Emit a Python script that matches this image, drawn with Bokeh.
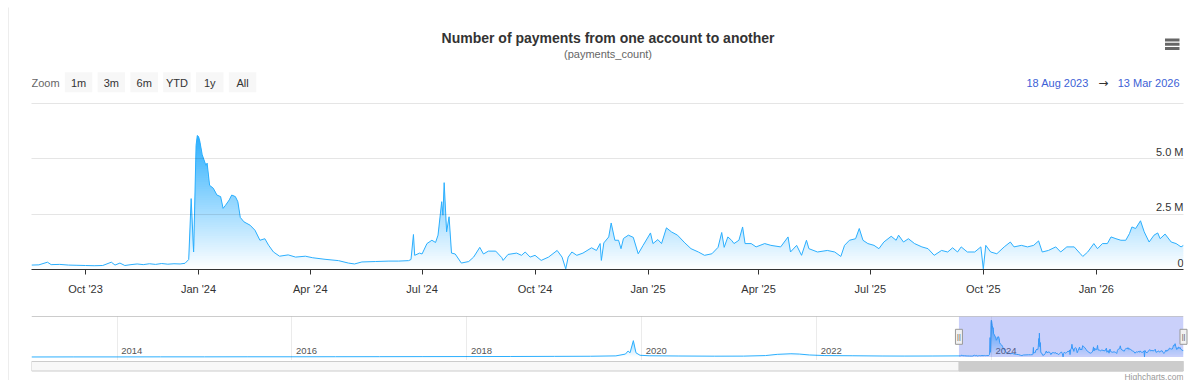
import numpy as np
import pandas as pd
from bokeh.plotting import figure
from bokeh.models import Range1d, FixedTicker, DatetimeTickFormatter, Grid, Span, BoxAnnotation
from bokeh.layouts import row, column
from bokeh.core.properties import value
from bokeh.core.validation import silence
from bokeh.core.validation.warnings import MISSING_RENDERERS
from bokeh.embed import file_html
from bokeh.resources import INLINE

silence(MISSING_RENDERERS, True)

FONT = "Liberation Sans"

# ---------------- data ----------------
title_text = "Number of payments from one account to another"
subtitle_text = "(payments_count)"
zoom_buttons = ["1m", "3m", "6m", "YTD", "1y", "All"]
range_from = "18 Aug 2023"
range_to = "13 Mar 2026"

main_dates = [
    "2023-08-18", "2023-08-24", "2023-08-31", "2023-09-03", "2023-09-10", "2023-09-17", "2023-09-24",
    "2023-10-01", "2023-10-08", "2023-10-15", "2023-10-22", "2023-10-25", "2023-10-29", "2023-11-02",
    "2023-11-07", "2023-11-12", "2023-11-17", "2023-11-22", "2023-11-27", "2023-12-02", "2023-12-07",
    "2023-12-12", "2023-12-17", "2023-12-21", "2023-12-24", "2023-12-26", "2023-12-28", "2023-12-30",
    "2023-12-31", "2024-01-01", "2024-01-02", "2024-01-04", "2024-01-07", "2024-01-08", "2024-01-10",
    "2024-01-13", "2024-01-16", "2024-01-19", "2024-01-21", "2024-01-23", "2024-01-26", "2024-01-28",
    "2024-01-31", "2024-02-02", "2024-02-04", "2024-02-07", "2024-02-12", "2024-02-16", "2024-02-20",
    "2024-02-24", "2024-02-27", "2024-03-02", "2024-03-07", "2024-03-14", "2024-03-20", "2024-03-28",
    "2024-04-03", "2024-04-13", "2024-04-24", "2024-05-02", "2024-05-07", "2024-05-13", "2024-05-24",
    "2024-06-04", "2024-06-12", "2024-06-20", "2024-06-22", "2024-06-24", "2024-06-25", "2024-06-29",
    "2024-07-01", "2024-07-05", "2024-07-09", "2024-07-12", "2024-07-14", "2024-07-17", "2024-07-18",
    "2024-07-19", "2024-07-21", "2024-07-23", "2024-07-25", "2024-07-28", "2024-08-02", "2024-08-08",
    "2024-08-12", "2024-08-17", "2024-08-20", "2024-08-24", "2024-08-30", "2024-09-04", "2024-09-05",
    "2024-09-09", "2024-09-16", "2024-09-20", "2024-09-23", "2024-09-27", "2024-10-01", "2024-10-06",
    "2024-10-12", "2024-10-19", "2024-10-23", "2024-10-26", "2024-10-28", "2024-10-31", "2024-11-04",
    "2024-11-09", "2024-11-16", "2024-11-20", "2024-11-23", "2024-11-24", "2024-11-26", "2024-11-30",
    "2024-12-02", "2024-12-05", "2024-12-08", "2024-12-10", "2024-12-12", "2024-12-16", "2024-12-20",
    "2024-12-24", "2024-12-28", "2025-01-03", "2025-01-05", "2025-01-09", "2025-01-12", "2025-01-16",
    "2025-01-20", "2025-01-25", "2025-01-31", "2025-02-05", "2025-02-11", "2025-02-16", "2025-02-22",
    "2025-02-27", "2025-03-02", "2025-03-04", "2025-03-07", "2025-03-10", "2025-03-12", "2025-03-16",
    "2025-03-19", "2025-03-21", "2025-03-26", "2025-03-30", "2025-04-06", "2025-04-11", "2025-04-19",
    "2025-04-25", "2025-04-27", "2025-05-02", "2025-05-06", "2025-05-10", "2025-05-12", "2025-05-19",
    "2025-05-27", "2025-06-02", "2025-06-07", "2025-06-10", "2025-06-14", "2025-06-19", "2025-06-22",
    "2025-06-25", "2025-06-29", "2025-07-04", "2025-07-08", "2025-07-12", "2025-07-18", "2025-07-22",
    "2025-07-24", "2025-07-28", "2025-08-01", "2025-08-06", "2025-08-12", "2025-08-17", "2025-08-22",
    "2025-08-28", "2025-09-02", "2025-09-06", "2025-09-10", "2025-09-13", "2025-09-18", "2025-09-24",
    "2025-09-29", "2025-10-01", "2025-10-03", "2025-10-07", "2025-10-12", "2025-10-18", "2025-10-23",
    "2025-10-26", "2025-11-01", "2025-11-06", "2025-11-11", "2025-11-15", "2025-11-18", "2025-11-23",
    "2025-11-29", "2025-12-03", "2025-12-08", "2025-12-14", "2025-12-19", "2025-12-21", "2025-12-25",
    "2025-12-30", "2026-01-02", "2026-01-06", "2026-01-10", "2026-01-13", "2026-01-17", "2026-01-21",
    "2026-01-25", "2026-01-28", "2026-01-30", "2026-02-02", "2026-02-06", "2026-02-09", "2026-02-13",
    "2026-02-17", "2026-02-20", "2026-02-22", "2026-02-26", "2026-03-03", "2026-03-07", "2026-03-11",
    "2026-03-13",
]
main_values_m = [
    0.20, 0.21, 0.33, 0.22, 0.23, 0.20, 0.19,
    0.18, 0.17, 0.18, 0.33, 0.20, 0.29, 0.18,
    0.22, 0.25, 0.22, 0.26, 0.23, 0.27, 0.24,
    0.26, 0.25, 0.28, 0.45, 3.20, 0.79, 5.60,
    6.05, 6.00, 5.80, 5.18, 4.70, 4.80, 3.80,
    3.67, 3.36, 3.29, 2.76, 2.90, 3.14, 3.36,
    3.29, 3.06, 2.35, 2.15, 2.00, 1.77, 1.32,
    1.39, 1.10, 0.79, 0.60, 0.66, 0.56, 0.60,
    0.53, 0.46, 0.40, 0.29, 0.25, 0.34, 0.36,
    0.38, 0.38, 0.40, 0.45, 1.58, 0.64, 0.74,
    0.70, 1.17, 1.32, 1.22, 1.55, 3.06, 2.45,
    3.92, 1.70, 2.38, 0.74, 0.70, 0.29, 0.36,
    0.56, 1.00, 0.70, 0.83, 0.83, 0.53, 0.41,
    0.68, 0.74, 0.64, 0.79, 0.56, 0.64, 0.41,
    0.56, 0.86, 0.56, 0.03, 0.56, 0.79, 0.64,
    0.74, 0.98, 0.86, 1.17, 0.41, 1.20, 1.47,
    2.10, 1.32, 1.32, 0.94, 1.40, 1.55, 1.45,
    0.71, 1.09, 1.65, 1.17, 1.35, 1.17, 1.88,
    1.70, 1.55, 1.20, 0.94, 0.79, 0.64, 0.71,
    1.00, 1.67, 1.00, 1.47, 1.32, 1.17, 1.32,
    1.92, 1.17, 1.17, 1.02, 1.17, 1.09, 1.02,
    1.47, 0.79, 1.09, 0.64, 1.32, 0.94, 0.79,
    0.86, 0.79, 0.59, 1.09, 1.32, 1.39, 1.85,
    1.32, 1.17, 1.09, 0.94, 1.24, 1.50, 1.32,
    1.55, 1.24, 1.39, 1.17, 1.02, 0.94, 0.64,
    0.86, 0.79, 0.98, 0.79, 1.02, 0.79, 0.79,
    1.02, 0.03, 1.09, 0.79, 0.71, 1.02, 1.24,
    1.02, 1.09, 1.02, 1.09, 1.29, 0.79, 0.86,
    1.02, 0.79, 1.02, 1.02, 0.71, 0.59, 0.79,
    1.17, 0.94, 1.17, 1.17, 1.47, 1.39, 1.32,
    1.32, 1.62, 1.92, 1.85, 2.20, 1.70, 1.24,
    1.55, 1.65, 1.39, 1.60, 1.24, 1.17, 1.02,
    1.09,
]

# longer history shown only in the navigator
hist_dates = [
    "2013-01-08", "2013-07-01", "2014-01-01", "2014-07-01", "2015-01-01", "2015-07-01",
    "2016-01-01", "2016-07-01", "2017-01-01", "2017-07-01", "2018-01-01", "2018-07-01",
    "2019-01-01", "2019-06-01", "2019-09-15", "2019-10-25", "2019-11-05", "2019-11-13",
    "2019-11-27", "2019-12-08", "2019-12-25", "2020-02-01", "2020-06-01", "2020-11-01",
    "2021-03-01", "2021-06-01", "2021-07-20", "2021-09-15", "2021-10-20", "2021-12-01",
    "2022-02-01", "2022-06-01", "2022-10-01", "2023-01-01", "2023-05-01",
]
hist_values_m = [
    0.02, 0.03, 0.03, 0.04, 0.04, 0.05,
    0.05, 0.06, 0.07, 0.08, 0.09, 0.10,
    0.12, 0.14, 0.20, 0.50, 1.00, 0.70,
    2.70, 0.70, 0.30, 0.22, 0.18, 0.15,
    0.16, 0.25, 0.45, 0.55, 0.50, 0.35,
    0.25, 0.22, 0.18, 0.17, 0.18,
]

x_tick_dates = ["2023-10-01", "2024-01-01", "2024-04-01", "2024-07-01", "2024-10-01",
                "2025-01-01", "2025-04-01", "2025-07-01", "2025-10-01", "2026-01-01"]
y_tick_values = [0, 2.5e6, 5.0e6]
y_tick_labels = ["0", "2.5 M", "5.0 M"]
y_grid_values = [2.5e6, 5.0e6, 7.5e6]
y_max = 7.5e6
nav_year_ticks = ["2014-01-01", "2016-01-01", "2018-01-01", "2020-01-01", "2022-01-01", "2024-01-01"]
nav_year_labels = ["2014", "2016", "2018", "2020", "2022", "2024"]


def ms(s):
    return pd.Timestamp(s).value / 1e6


main_x = np.array([ms(d) for d in main_dates])
main_y = np.array(main_values_m) * 1e6
hist_x = np.array([ms(d) for d in hist_dates])
hist_y = np.array(hist_values_m) * 1e6
nav_x = np.concatenate([hist_x, main_x])
nav_y = np.concatenate([hist_y, main_y])

SERIES = (44, 175, 254)
SERIES_HEX = "#2caffe"
BORDER = "#dcdcdc"
GRID_ALPHA = 0.1

# page layout (px)
PAD_L = 8
COL_X = PAD_L + 1
COL_W = 1200 - COL_X
FRAME_L = 31
FRAME_R = 1183
BL = FRAME_L - COL_X
BR = 1200 - FRAME_R
TOTAL_H = 380


def bare(**kw):
    base = dict(output_backend="svg", toolbar_location=None, outline_line_color=None,
                x_axis_location=None, y_axis_location=None)
    base.update(kw)
    p = figure(**base)
    p.grid.visible = False
    return p


def solid(w, h, color):
    return bare(width=w, height=h, min_border=0, background_fill_color=color, border_fill_color=color)


def gradient_area(p, x, y, n=60):
    """Area under the series with a vertical fade: series colour at the series maximum,
    white at zero. Built from horizontal bands of the area itself (each band slightly
    overlapping the next, drawn bottom-up), then the series line on top."""
    top = y.max()
    edges = np.linspace(0, top, n + 1)
    overlap = top / n * 0.6
    for k in range(n):
        lo = edges[k]
        if not np.any(y > lo):
            continue
        hi = edges[k + 1] + (overlap if k < n - 1 else 0)
        a = (k + 0.5) / n
        col = "#%02x%02x%02x" % tuple(int(round(255 * (1 - a) + c * a)) for c in SERIES)
        p.varea(x=x, y1=np.minimum(y, lo), y2=np.minimum(y, hi), fill_color=col)
    p.line(x, y, line_color=SERIES_HEX, line_width=1)


# ---------------- header (page coordinates) ----------------
HEAD_TOP, HEAD_BOT = 8, 101
hd = bare(width=COL_W, height=HEAD_BOT - HEAD_TOP, min_border_left=BL, min_border_right=BR,
          min_border_top=0, min_border_bottom=0,
          x_range=Range1d(FRAME_L, FRAME_R), y_range=Range1d(HEAD_BOT, HEAD_TOP))
hd.text(x=[607.5], y=[37.3], text=[title_text], text_align="center", text_baseline="middle",
        text_font=value(FONT), text_font_size="14px", text_font_style="bold", text_color="#333333")
hd.text(x=[607.5], y=[53.8], text=[subtitle_text], text_align="center", text_baseline="middle",
        text_font=value(FONT), text_font_size="11px", text_color="#666666")
hd.segment(x0=[1164.5] * 3, x1=[1179] * 3, y0=[39.5, 43.75, 48], y1=[39.5, 43.75, 48],
           line_color="#666666", line_width=3)
hd.text(x=[31], y=[82.3], text=["Zoom"], text_align="left", text_baseline="middle",
        text_font=value(FONT), text_font_size="11px", text_color="#666666")
btn_left = [64.3 + i * 32.8 for i in range(len(zoom_buttons))]
hd.quad(left=btn_left, right=[b + 27.5 for b in btn_left], top=[71.7] * len(btn_left),
        bottom=[91.7] * len(btn_left), fill_color="#f7f7f7", line_color=None)
hd.text(x=[b + 13.75 for b in btn_left], y=[82.3] * len(btn_left), text=zoom_buttons,
        text_align="center", text_baseline="middle",
        text_font=value(FONT), text_font_size="11px", text_color="#333333")
BLUE = "#3d5fd6"
hd.text(x=[1026], y=[82.3], text=[range_from], text_align="left", text_baseline="middle",
        text_font=value(FONT), text_font_size="11px", text_color=BLUE)
hd.text(x=[1102.8], y=[82.3], text=["\u2192"], text_align="center", text_baseline="middle",
        text_font=value("DejaVu Sans"), text_font_size="12px", text_color="#333333")
hd.text(x=[1179], y=[82.3], text=[range_to], text_align="right", text_baseline="middle",
        text_font=value(FONT), text_font_size="11px", text_color=BLUE)

# ---------------- main chart ----------------
main_top = y_max * 1.005
main = figure(width=COL_W, height=204, x_axis_type="datetime",
              x_range=Range1d(main_x[0], main_x[-1]), y_range=Range1d(0, main_top),
              output_backend="svg", toolbar_location=None, y_axis_location=None,
              min_border_left=BL, min_border_right=BR, min_border_top=1, min_border_bottom=36,
              outline_line_color=None)
for g in main.grid:
    g.visible = False
gradient_area(main, main_x, main_y)
main.add_layout(Grid(dimension=1, ticker=FixedTicker(ticks=y_grid_values),
                     grid_line_color="black", grid_line_alpha=GRID_ALPHA, level="annotation"), "center")
main.text(x=[main_x[-1]] * len(y_tick_values), y=y_tick_values, text=y_tick_labels,
          text_align="right", text_baseline="middle", y_offset=-7,
          text_font=value(FONT), text_font_size="11px", text_color="#333333")
xa = main.xaxis[0]
xa.ticker = FixedTicker(ticks=[ms(d) for d in x_tick_dates])
xa.formatter = DatetimeTickFormatter(days="%b '%y", months="%b '%y", years="%b '%y")
xa.major_label_text_font = FONT
xa.major_label_text_font_size = "11px"
xa.major_label_text_color = "#333333"
xa.axis_line_color = "#333333"
xa.major_tick_line_color = "#333333"
xa.minor_tick_line_color = None
xa.major_tick_out = 5
xa.major_tick_in = 0
xa.major_label_standoff = 8

# ---------------- navigator ----------------
NAV_TOP, NAV_FRAME_TOP, NAV_BOT = 305, 316, 360
NAV_BASE = 356.6
nav_ymax = nav_y.max() * 1.1
nav_ymin = -nav_ymax * (NAV_BOT - NAV_BASE) / (NAV_BASE - NAV_FRAME_TOP)
nav = bare(width=COL_W, height=NAV_BOT - NAV_TOP, x_axis_type="datetime",
           x_range=Range1d(nav_x[0], nav_x[-1]), y_range=Range1d(nav_ymin, nav_ymax),
           min_border_left=BL, min_border_right=BR, min_border_top=NAV_FRAME_TOP - NAV_TOP,
           min_border_bottom=0)
gradient_area(nav, nav_x, nav_y, n=30)
nav.text(x=[ms(d) for d in nav_year_ticks], y=[0] * len(nav_year_ticks), text=nav_year_labels,
         x_offset=4, y_offset=-6.5, text_align="left", text_baseline="middle",
         text_font=value(FONT), text_font_size="9.5px", text_color="#555555")
nav.add_layout(Grid(dimension=0, ticker=FixedTicker(ticks=[ms(d) for d in nav_year_ticks]),
                    grid_line_color="black", grid_line_alpha=0.08, level="annotation"), "center")
nav.add_layout(Span(location=nav_ymax, dimension="width", line_color="#999999", line_width=1))
nav.add_layout(BoxAnnotation(left=main_x[0], right=main_x[-1], top=nav_ymax, bottom=0,
                             fill_color="#5064f0", fill_alpha=0.3, line_color=None))
hr = nav.rect(x=[main_x[0], main_x[-1]], y=[nav_ymax / 2] * 2, width=7, height=15,
              width_units="screen", height_units="screen",
              fill_color="#f2f2f2", line_color="#999999", line_width=1)
hr.level = "overlay"
gr = nav.text(x=[main_x[0], main_x[-1]], y=[nav_ymax / 2] * 2, text=["||", "||"],
              text_align="center", text_baseline="middle",
              text_font=value(FONT), text_font_size="7px", text_color="#444444")
gr.level = "overlay"

# ---------------- scrollbar + credits (page y coordinates) ----------------
SC_TOP = NAV_BOT
sc = bare(width=COL_W, height=TOTAL_H - SC_TOP, x_range=nav.x_range, y_range=Range1d(TOTAL_H, SC_TOP),
          min_border_left=BL, min_border_right=BR, min_border_top=0, min_border_bottom=0)
sc.quad(left=[nav_x[0]], right=[nav_x[-1]], top=[361], bottom=[370.5],
        fill_color="#f8f8f8", line_color="#cccccc")
sc.quad(left=[main_x[0]], right=[main_x[-1]], top=[361], bottom=[370.5],
        fill_color="#cccccc", line_color="#cccccc")
sc.text(x=[nav_x[-1]], y=[376], text=["Highcharts.com"], text_align="right",
        text_baseline="middle", text_font=value(FONT), text_font_size="8.5px",
        text_color="#999999")

# ---------------- card border + assembly ----------------
left_strip = column(solid(1, 7, "white"), solid(1, TOTAL_H - 7, BORDER))
stack = column(solid(COL_W, 7, "white"), solid(COL_W, 1, BORDER), hd, main, nav, sc)
layout = row(solid(PAD_L, TOTAL_H, "white"), left_strip, stack)
open("out.html", "w").write(file_html(layout, INLINE))
